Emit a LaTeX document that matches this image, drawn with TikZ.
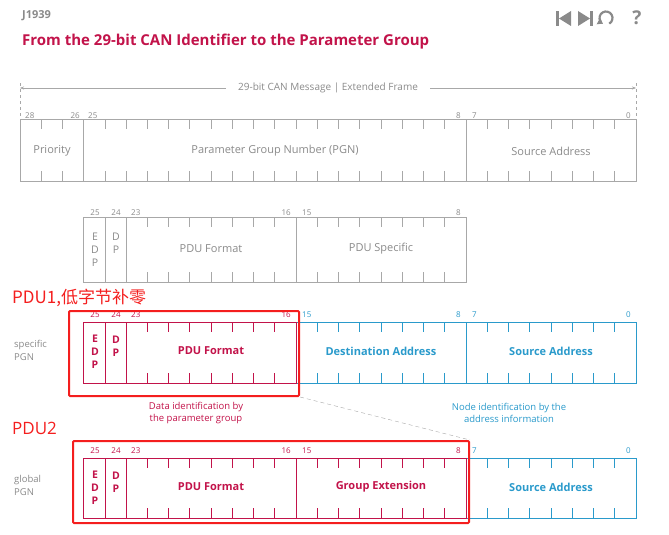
\documentclass[tikz,border=0pt]{standalone}
\usepackage{fontspec}
\setmainfont{Open Sans}
\newfontfamily\cjk{Noto Sans CJK SC}
\usetikzlibrary{arrows.meta}
\definecolor{crim}{HTML}{C2134A}
\definecolor{blu}{HTML}{2A9ACB}
\definecolor{gry}{HTML}{A8A8A8}
\definecolor{txg}{HTML}{8A8A8A}
\definecolor{redbox}{HTML}{F41E1E}
\newcommand{\bx}[1]{(20+(28-#1)*21.24)}
\newcommand{\fld}[6]{%
  \draw[#5,line width=.9pt] ({\bx{#1}},#3) rectangle ({\bx{#2}+21.24},#4);
  \ifnum#6=1
  \pgfmathtruncatemacro{\lo}{#2+1}\pgfmathtruncatemacro{\hi}{#1}
  \ifnum\lo>\hi\else
  \foreach \i in {\lo,...,\hi}{
     \draw[#5,line width=.9pt] ({\bx{\i}+21.24},#3) -- ++(0,10);
     \draw[#5,line width=.9pt] ({\bx{\i}+21.24},#4) -- ++(0,-10);}
  \fi\fi}
\tikzset{num/.style={font=\fontsize{8}{9}\selectfont,inner sep=0pt},
 lab/.style={font=\fontsize{11}{13}\selectfont,inner sep=0pt},
 blab/.style={font=\bfseries\fontsize{11}{13}\selectfont,inner sep=0pt},
 edp/.style={inner sep=0pt,align=center,font=\fontsize{10.5}{13}\selectfont},
 bedp/.style={inner sep=0pt,align=center,font=\bfseries\fontsize{10.5}{13}\selectfont},
 captxt/.style={font=\fontsize{9.5}{12.5}\selectfont,align=center,inner sep=0pt},
 side/.style={anchor=west,text=txg,align=left,font=\fontsize{9.5}{13}\selectfont,inner sep=0pt},
 rbox/.style={draw=redbox,line width=2pt,rounded corners=1pt}}
\begin{document}
\begin{tikzpicture}[x=1pt,y=-1pt]
\useasboundingbox (0,0) rectangle (669,535);
% header
\node[anchor=west,text=txg,font=\bfseries\fontsize{11}{13}\selectfont,inner sep=0pt] (j) at (22,16) {J1939};
\node[anchor=west,text=crim,font=\bfseries\fontsize{15}{17}\selectfont,inner sep=0pt] (t) at (22,42) {From the 29-bit CAN Identifier to the Parameter Group};
\begin{scope}[txg]
\fill (556,11) rectangle (559,26); \fill (571,11) -- (559,18.5) -- (571,26) -- cycle;
\fill (578,11) -- (590,18.5) -- (578,26) -- cycle; \fill (590,11) rectangle (593,26);
\draw[line width=2.2pt,-{Triangle[length=5pt,width=7pt]}] (606,18) ++(60:6.5) arc[start angle=60,end angle=-240,radius=6.5];
\node[font=\bfseries\fontsize{19}{20}\selectfont,inner sep=0pt] (q) at (637,18) {?};
\end{scope}
% dimension line
\node[text=txg,font=\fontsize{10}{12}\selectfont,inner sep=0pt] (dim) at (328,88) {29-bit CAN Message | Extended Frame};
\coordinate (dl) at (20,88); \coordinate (dr) at (636,88);
\draw[gry,-{Stealth[length=4pt]}] (dim.west) ++(-12,0) -- (dl);
\draw[gry,-{Stealth[length=4pt]}] (dim.east) ++(12,0) -- (dr);
\draw[gry,dash pattern=on 3pt off 3pt] (20,83) -- (20,122) (636,83) -- (636,122);
% row 1
\fld{28}{26}{119}{181}{gry}{1}\fld{25}{8}{119}{181}{gry}{1}\fld{7}{0}{119}{181}{gry}{1}
\begin{scope}[txg]
\node[num,anchor=west] at (25,116) {28};\node[num,anchor=east] at (80,116) {26};
\node[num,anchor=west] at (88,116) {25};\node[num,anchor=east] at (461,116) {8};
\node[num,anchor=west] at (472,116) {7};\node[num,anchor=east] at (631,116) {0};
\node[lab] (pr) at (52,151) {Priority};
\node[lab] (pgn) at (275,151) {Parameter Group Number (PGN)};
\node[lab] (sa0) at (551,151) {Source Address};
\end{scope}
% row 2
\fld{25}{25}{217}{282}{gry}{0}\fld{24}{24}{217}{282}{gry}{0}\fld{23}{16}{217}{282}{gry}{1}\fld{15}{8}{217}{282}{gry}{1}
\begin{scope}[txg]
\node[num] at (95,213) {25};\node[num] at (116,213) {24};\node[num,anchor=west] at (131,213) {23};
\node[num,anchor=east] at (291,213) {16};\node[num,anchor=west] at (302,213) {15};\node[num,anchor=east] at (461,213) {8};
\node[edp] (e0) at (95,250) {E\\D\\P};
\node[edp] (d0) at (116,243) {D\\P};
\node[lab] (pf0) at (211,249) {PDU Format};
\node[lab] (ps0) at (381,249) {PDU Specific};
\end{scope}
% PDU1 row
\node[anchor=west,text=redbox,font=\cjk\fontsize{17}{19}\selectfont,inner sep=0pt] (p1) at (12,298) {PDU1,低字节补零};
\node[side] (sp) at (14,350) {specific\\PGN};
\fld{15}{8}{322}{383}{blu}{1}\fld{7}{0}{322}{383}{blu}{1}
\fld{25}{25}{322}{383}{crim}{0}\fld{24}{24}{322}{383}{crim}{0}\fld{23}{16}{322}{383}{crim}{1}
\node[num,text=crim] at (95,315) {25};\node[num,text=crim] at (116,315) {24};\node[num,text=crim,anchor=west] at (131,315) {23};
\node[num,text=crim,anchor=east] at (291,315) {16};
\node[num,text=blu,anchor=west] at (302,315) {15};\node[num,text=blu,anchor=east] at (461,315) {8};
\node[num,text=blu,anchor=west] at (472,315) {7};\node[num,text=blu,anchor=east] at (631,315) {0};
\node[bedp,text=crim] (e1) at (95,352) {E\\D\\P};
\node[bedp,text=crim] (d1) at (116,346) {D\\P};
\node[blab,text=crim] (pf1) at (211,351) {PDU Format};
\node[blab,text=blu] (da) at (381,351) {Destination Address};
\node[blab,text=blu] (sa1) at (551,351) {Source Address};
\node[rbox,minimum width=230,minimum height=85,anchor=north west] (r1) at (68,310) {};
\node[captxt,text=crim] (c1) at (196,413) {Data identification by\\the parameter group};
\node[captxt,text=blu] (c2) at (509,413) {Node identification by the\\address information};
% PDU2 row
\node[anchor=west,text=redbox,font=\fontsize{17}{19}\selectfont,inner sep=0pt] (p2) at (12,428) {PDU2};
\node[side] (gl) at (14,485) {global\\PGN};
\fld{7}{0}{458}{518}{blu}{1}
\fld{25}{25}{458}{518}{crim}{0}\fld{24}{24}{458}{518}{crim}{0}\fld{23}{16}{458}{518}{crim}{1}\fld{15}{8}{458}{518}{crim}{1}
\node[num,text=crim] at (95,451) {25};\node[num,text=crim] at (116,451) {24};\node[num,text=crim,anchor=west] at (131,451) {23};
\node[num,text=crim,anchor=east] at (291,451) {16};\node[num,text=crim,anchor=west] at (302,451) {15};\node[num,text=crim,anchor=east] at (461,451) {8};
\node[num,text=blu,anchor=west] at (472,451) {7};\node[num,text=blu,anchor=east] at (631,451) {0};
\node[bedp,text=crim] (e2) at (95,488) {E\\D\\P};
\node[bedp,text=crim] (d2) at (116,482) {D\\P};
\node[blab,text=crim] (pf2) at (211,487) {PDU Format};
\node[blab,text=crim] (ge) at (381,487) {Group Extension};
\node[blab,text=blu] (sa2) at (551,487) {Source Address};
\node[rbox,minimum width=396,minimum height=82,anchor=north west] (r2) at (72,440) {};
\draw[gry,dash pattern=on 4pt off 3pt] (r1.south east) -- (r2.north east);
\end{tikzpicture}
\end{document}
